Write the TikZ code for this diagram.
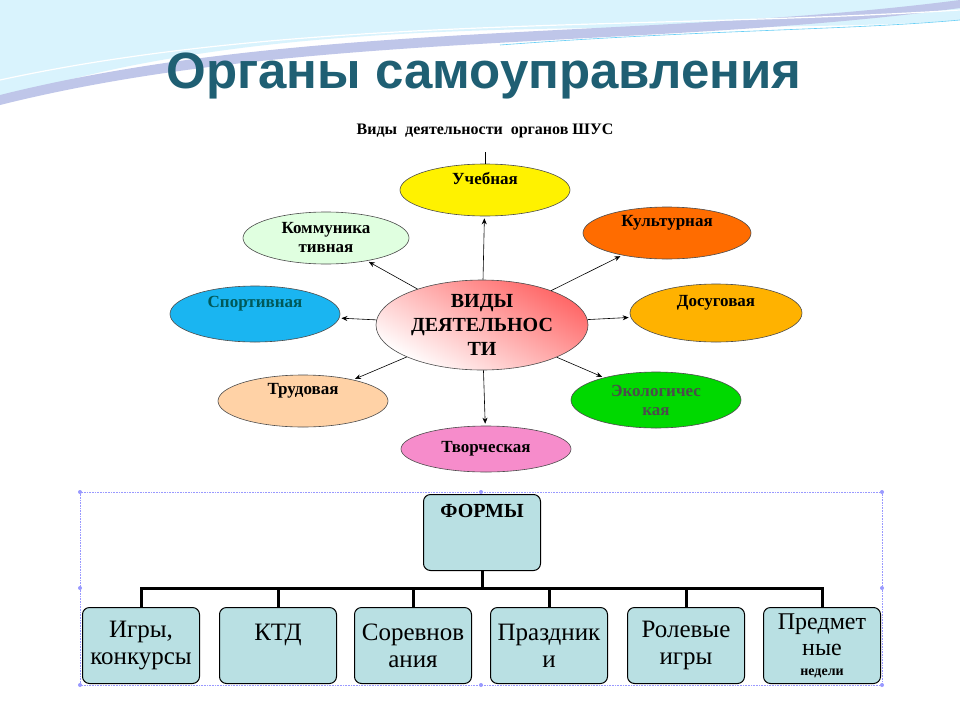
\documentclass[tikz,border=0pt]{standalone}
\usepackage{fontspec}
\setmainfont{Liberation Serif}
\newfontfamily\titlefont{Liberation Sans}
\usetikzlibrary{shapes.geometric,arrows.meta}
\begin{document}
\begin{tikzpicture}[x=1pt,y=-1pt,
 ell/.style={ellipse,draw=black!70,line width=0.6pt,minimum width=#1,inner sep=0pt,align=center,font=\bfseries\fontsize{17}{19}\selectfont},
 arr/.style={-{Stealth[length=6pt,width=5pt]},line width=0.6pt,shorten >=2pt},
 formbox/.style={draw,line width=1pt,rounded corners=7pt,fill=formfill,minimum width=117pt,minimum height=76pt,anchor=north,align=center,inner sep=1pt,font=\fontsize{25}{27}\selectfont},
 bar/.style={line width=3pt}]
\definecolor{formfill}{HTML}{B9E0E3}
\definecolor{titlecol}{HTML}{1F5F73}
\useasboundingbox (0,0) rectangle (960,720);
\fill[white] (0,0) rectangle (960,720);
% waves
\fill[cyan!15] (0,0) -- (960,0) -- (960,20) .. controls (700,40) and (300,0) .. (0,100) -- cycle;
\fill[cyan!35!blue!25] (0,95) .. controls (300,20) and (650,40) .. (960,0) -- (960,8) .. controls (650,50) and (300,30) .. (0,105) -- cycle;
\draw[white,line width=1.2pt] (0,80) .. controls (300,15) and (650,30) .. (960,10);
\draw[cyan!60,line width=0.6pt] (500,45) .. controls (700,30) and (850,30) .. (960,20);
\node[font=\titlefont\bfseries\fontsize{51}{55}\selectfont,text=titlecol] (title) at (484,76) {Органы самоуправления};
% panel
\fill[white] (148,120) rectangle (820,480);
\node[font=\bfseries\fontsize{16}{18}\selectfont] (hdr) at (485,131) {Виды \ деятельности \ органов ШУС};
\coordinate (hl) at (485,152);
\node[ell=212pt,minimum height=90pt,top color=red!60,bottom color=white,shading angle=-30,font=\bfseries\fontsize{20}{24}\selectfont] (c) at (482,325) {ВИДЫ\\ДЕЯТЕЛЬНОС\\ТИ};
\node[ell=170pt,minimum height=52pt,fill=yellow] (u) at (485,190) {Учебная\\[5pt]};
\node[ell=166pt,minimum height=52pt,fill=green!12] (k) at (326,238) {Коммуника\\тивная};
\node[ell=168pt,minimum height=52pt,fill=orange!85!red] (ku) at (667,233) {Культурная\\[5pt]};
\node[ell=170pt,minimum height=56pt,fill=cyan!90!white,text=teal!70!black] (s) at (255,314) {Спортивная\\[5pt]};
\node[ell=172pt,minimum height=58pt,fill=orange!60!yellow] (d) at (716,313) {Досуговая\\[5pt]};
\node[ell=170pt,minimum height=52pt,fill=orange!35] (t) at (303,401) {Трудовая\\[5pt]};
\node[ell=170pt,minimum height=56pt,fill=green!85!black,text=black!70] (e) at (656,400) {Экологичес\\кая};
\node[ell=170pt,minimum height=46pt,fill=magenta!45] (tv) at (486,449) {Творческая};
\draw[line width=0.8pt] (hl) -- (u.north);
\foreach \x in {u,k,ku,s,d,t,e,tv} \draw[arr] (c) -- (\x);
% forms
\draw[blue!40,densely dotted,line width=0.6pt] (80,492) rectangle (882,685);
\foreach \p in {(80,492),(481,492),(882,492),(80,588),(882,588),(80,685),(481,685),(882,685)}
  \fill[blue!40] \p circle (2pt);
\node[formbox,minimum height=75pt,font=\bfseries\fontsize{20}{22}\selectfont] (f) at (482,494) {\rule{0pt}{22pt}ФОРМЫ\\[30pt]};
\node[formbox] (f1) at (141,607) {Игры,\\конкурсы};
\node[formbox] (f2) at (278,607) {КТД\\\phantom{x}};
\node[formbox] (f3) at (413,607) {Соревнов\\ания};
\node[formbox] (f4) at (549,607) {Праздник\\и};
\node[formbox] (f5) at (686,607) {Ролевые\\игры};
\node[formbox,font=\fontsize{24}{26}\selectfont] (f6) at (822,607) {Предмет\\ные\\[-6pt]{\fontsize{14}{14}\selectfont\bfseries недели}};
\coordinate (bj) at (482,588);
\draw[bar] (f.south) -- (bj);
\draw[bar] (f1.north) |- (bj) -| (f6.north);
\foreach \b in {f2,f3,f4,f5} \draw[bar] (\b.north) -- (\b.north |- bj);
\end{tikzpicture}
\end{document}
